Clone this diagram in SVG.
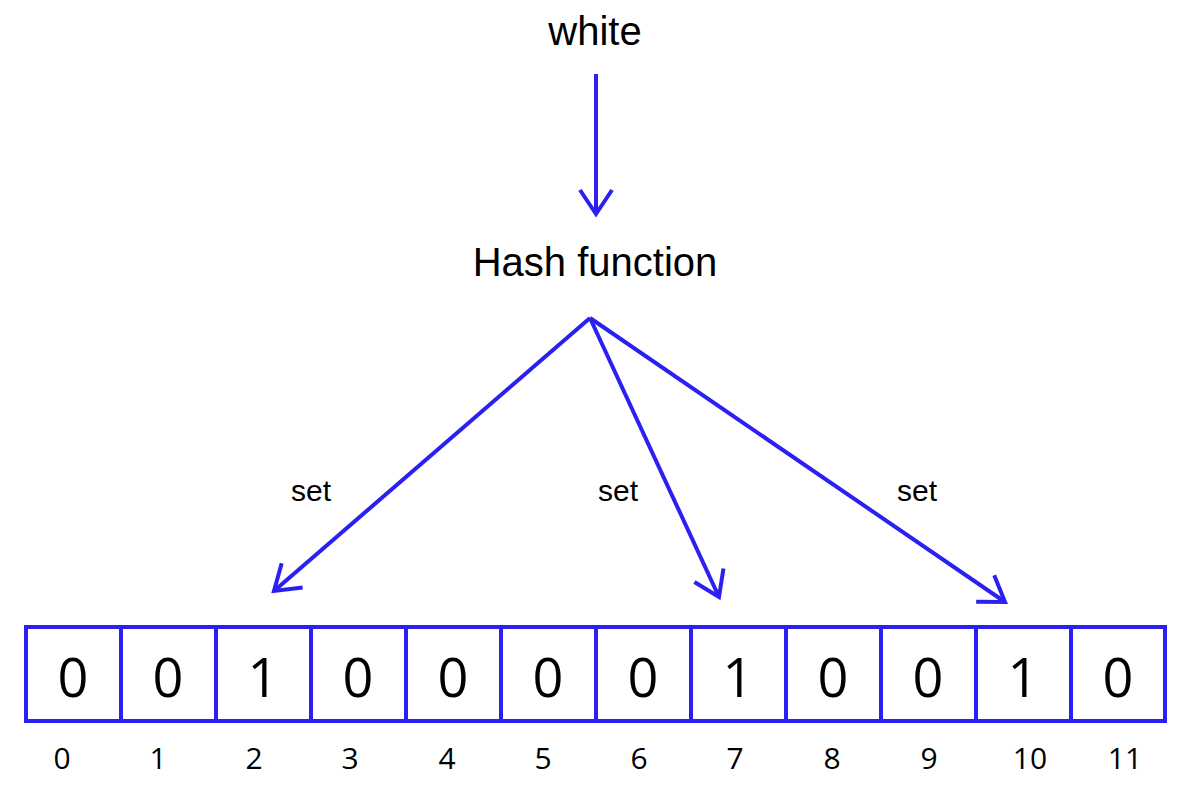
<svg xmlns="http://www.w3.org/2000/svg" width="1200" height="788" viewBox="0 0 1200 788">
<style>
.ln{stroke:#2b1ff2;stroke-width:4;fill:none}
.t{font-family:"Liberation Sans",Arial,sans-serif;fill:#000}
.d{font-family:"Open Sans","Liberation Sans",sans-serif;font-size:54px;text-anchor:middle}
.i{font-family:"Open Sans","Liberation Sans",sans-serif;font-size:30px;text-anchor:middle}
</style>
<defs>
<marker id="ah" markerWidth="12" markerHeight="12" refX="10" refY="6" orient="auto" markerUnits="userSpaceOnUse" viewBox="0 0 12 12" overflow="visible">
<path d="M-14,-10 L10,6 L-14,22" transform="scale(1)" fill="none" stroke="#2b1ff2" stroke-width="4"/>
</marker>
</defs>
<rect width="1200" height="788" fill="#fff"/>
<g id="white"><text class="t" x="595" y="45" font-size="40" text-anchor="middle">white</text></g>
<g id="hash"><text class="t" x="595" y="276" font-size="40" text-anchor="middle">Hash function</text></g>
<g id="connectors">
<line class="ln" x1="596" y1="74" x2="596" y2="214" marker-end="url(#ah)"/>
<line class="ln" x1="590" y1="318" x2="274" y2="591" marker-end="url(#ah)"/>
<line class="ln" x1="590" y1="318" x2="719" y2="597" marker-end="url(#ah)"/>
<line class="ln" x1="590" y1="318" x2="1005" y2="602" marker-end="url(#ah)"/>
<text class="t" x="311" y="501" font-size="30" text-anchor="middle">set</text>
<text class="t" x="618" y="501" font-size="30" text-anchor="middle">set</text>
<text class="t" x="917" y="501" font-size="30" text-anchor="middle">set</text>
</g>
<g id="array">
<rect class="ln" x="26" y="627" width="1139" height="94"/>
<path class="ln" d="M121,627V721M216,627V721M311,627V721M406,627V721M501,627V721M596,627V721M691,627V721M786,627V721M881,627V721M976,627V721M1071,627V721"/>
<g class="t d">
<text x="73" y="697">0</text><text x="168" y="697">0</text><text x="263" y="697">1</text><text x="358" y="697">0</text><text x="453" y="697">0</text><text x="548" y="697">0</text><text x="643" y="697">0</text><text x="738" y="697">1</text><text x="833" y="697">0</text><text x="928" y="697">0</text><text x="1023" y="697">1</text><text x="1118" y="697">0</text>
</g>
<g class="t i">
<text x="62" y="769">0</text><text x="158" y="769">1</text><text x="254" y="769">2</text><text x="350" y="769">3</text><text x="447" y="769">4</text><text x="543" y="769">5</text><text x="639" y="769">6</text><text x="735" y="769">7</text><text x="832" y="769">8</text><text x="929" y="769">9</text><text x="1030" y="769">10</text><text x="1125" y="769">11</text>
</g>
</g>
</svg>
